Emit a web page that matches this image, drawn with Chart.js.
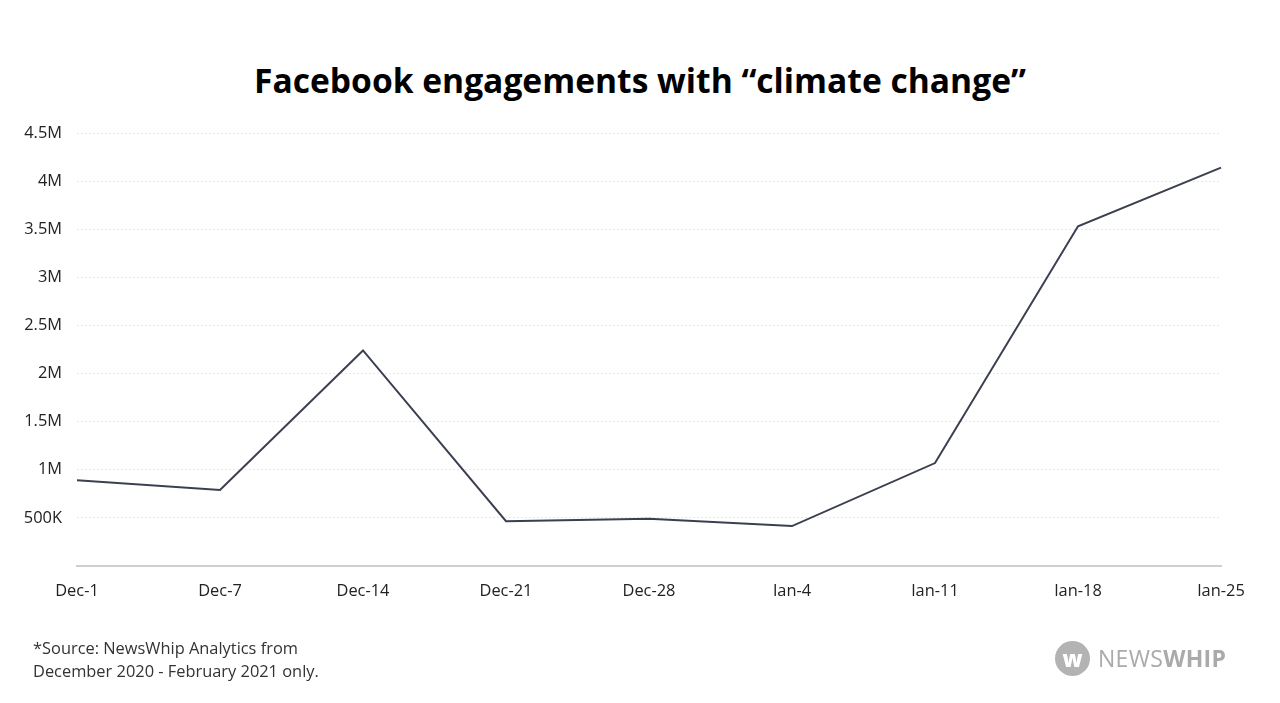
<!DOCTYPE html>
<html>
<head>
<meta charset="utf-8">
<script src="https://cdn.jsdelivr.net/npm/chart.js@4"></script>
<style>
  html, body { margin: 0; padding: 0; background: #fff; }
  body { width: 1280px; height: 703px; position: relative; overflow: hidden; font-family: "Open Sans", sans-serif; }
  #title { position: absolute; left: 0; top: 58px; width: 1280px; text-align: center; font-weight: 700; font-size: 33.6px; color: #000; line-height: 44px; }
  #wrap { position: absolute; left: 0; top: 0; width: 1280px; height: 703px; }
  #source { position: absolute; left: 33px; top: 636px; font-size: 16.4px; line-height: 23px; color: #333; }
  #logo { position: absolute; left: 1055px; top: 640px; height: 36px; display: flex; align-items: center; color: #aaa; }
  #logo .circ { width: 35px; height: 35px; border-radius: 50%; background: #b3b3b3; color: #fff; font-weight: 800; font-size: 22px; display: flex; align-items: center; justify-content: center; margin-right: 8px; }
  #logo .txt { font-size: 23px; letter-spacing: 0.3px; font-weight: 400; }
  #logo .txt b { font-weight: 700; }
</style>
</head>
<body>
<div id="title">Facebook engagements with “climate change”</div>
<div id="wrap"><canvas id="c" width="1280" height="703"></canvas></div>
<div id="source">*Source: NewsWhip Analytics from<br>December 2020 - February 2021 only.</div>
<div id="logo"><div class="circ">w</div><div class="txt">NEWS<b>WHIP</b></div></div>
<script>
const categories = ["Dec-1", "Dec-7", "Dec-14", "Dec-21", "Dec-28", "Jan-4", "Jan-11", "Jan-18", "Jan-25"];
const engagements = [890000, 790000, 2240000, 465000, 490000, 415000, 1070000, 3530000, 4140000];
const yTickValues = [500000, 1000000, 1500000, 2000000, 2500000, 3000000, 3500000, 4000000, 4500000];

function fmt(v) {
  if (v >= 1000000) return (v / 1000000) + "M";
  if (v >= 1000) return (v / 1000) + "K";
  return "";
}

new Chart(document.getElementById("c"), {
  type: "line",
  data: {
    labels: categories,
    datasets: [{
      data: engagements,
      borderColor: "#3b4050",
      borderWidth: 2,
      pointRadius: 0,
      tension: 0,
      fill: false
    }]
  },
  options: {
    responsive: false,
    animation: false,
    layout: { padding: { left: 0, right: 59, top: 133, bottom: 107 } },
    plugins: { legend: { display: false }, tooltip: { enabled: false }, title: { display: false } },
    scales: {
      x: {
        offset: false,
        grid: { display: false, drawTicks: false },
        border: { display: true, color: "#cfcfcf", width: 2 },
        ticks: { padding: 15, color: "#222", font: { family: "Open Sans", size: 16.4 }, maxRotation: 0, autoSkip: false },
        afterFit: s => { s.height = 30; }
      },
      y: {
        min: 0,
        max: 4500000,
        afterBuildTicks: s => { s.ticks = [0].concat(yTickValues).map(v => ({ value: v })); },
        grid: {
          drawTicks: false,
          color: ctx => ctx.tick && ctx.tick.value === 0 ? "rgba(0,0,0,0)" : "#e8e8e8",
          lineWidth: 1
        },
        border: { display: false, dash: [2, 2] },
        ticks: { padding: 15, color: "#222", font: { family: "Open Sans", size: 16.4 }, callback: v => fmt(v) },
        afterFit: s => { s.width = 77; }
      }
    }
  }
});
</script>
</body>
</html>
